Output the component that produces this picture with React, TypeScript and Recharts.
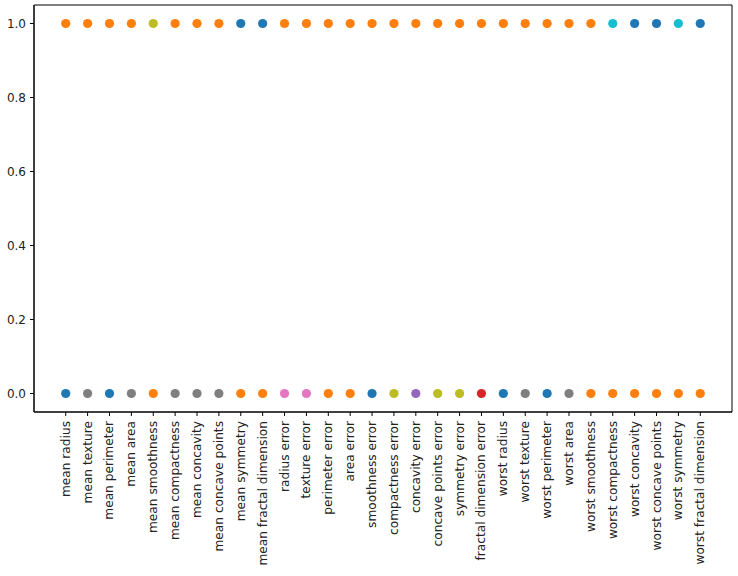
import { ScatterChart, Scatter, XAxis, YAxis, Cell, ReferenceArea } from 'recharts';

const features = [
  'mean radius', 'mean texture', 'mean perimeter', 'mean area', 'mean smoothness',
  'mean compactness', 'mean concavity', 'mean concave points', 'mean symmetry', 'mean fractal dimension',
  'radius error', 'texture error', 'perimeter error', 'area error', 'smoothness error',
  'compactness error', 'concavity error', 'concave points error', 'symmetry error', 'fractal dimension error',
  'worst radius', 'worst texture', 'worst perimeter', 'worst area', 'worst smoothness',
  'worst compactness', 'worst concavity', 'worst concave points', 'worst symmetry', 'worst fractal dimension',
];

// value plotted at the top row and bottom row for every feature
const upperValues = [1, 1, 1, 1, 1, 1, 1, 1, 1, 1, 1, 1, 1, 1, 1, 1, 1, 1, 1, 1, 1, 1, 1, 1, 1, 1, 1, 1, 1, 1];
const lowerValues = [0, 0, 0, 0, 0, 0, 0, 0, 0, 0, 0, 0, 0, 0, 0, 0, 0, 0, 0, 0, 0, 0, 0, 0, 0, 0, 0, 0, 0, 0];

// colour visible on top of each stack of markers
const upperColors = [
  'orange', 'orange', 'orange', 'orange', 'olive', 'orange', 'orange', 'orange', 'blue', 'blue',
  'orange', 'orange', 'orange', 'orange', 'orange', 'orange', 'orange', 'orange', 'orange', 'orange',
  'orange', 'orange', 'orange', 'orange', 'orange', 'cyan', 'blue', 'blue', 'cyan', 'blue',
];
const lowerColors = [
  'blue', 'gray', 'blue', 'gray', 'orange', 'gray', 'gray', 'gray', 'orange', 'orange',
  'pink', 'pink', 'orange', 'orange', 'blue', 'olive', 'purple', 'olive', 'olive', 'red',
  'blue', 'gray', 'blue', 'gray', 'orange', 'orange', 'orange', 'orange', 'orange', 'orange',
];

const yTicks = [0, 0.2, 0.4, 0.6, 0.8, 1.0];

const PALETTE: Record<string, string> = {
  blue: '#1f77b4',
  orange: '#ff7f0e',
  green: '#2ca02c',
  red: '#d62728',
  purple: '#9467bd',
  brown: '#8c564b',
  pink: '#e377c2',
  gray: '#7f7f7f',
  olive: '#bcbd22',
  cyan: '#17becf',
};

const FONT = '"DejaVu Sans", sans-serif';

const upperData = features.map((name, i) => ({ x: i, y: upperValues[i], name, color: PALETTE[upperColors[i]] }));
const lowerData = features.map((name, i) => ({ x: i, y: lowerValues[i], name, color: PALETTE[lowerColors[i]] }));

const Dot = (props: any) => {
  const { cx, cy, fill } = props;
  if (cx == null || cy == null) return null;
  return <circle cx={cx} cy={cy} r={4.6} fill={fill} />;
};

const FeatureTick = ({ x, y, payload }: any) => {
  const ty = y + 3;
  return (
    <text
      x={x}
      y={ty}
      transform={`rotate(-90, ${x}, ${ty})`}
      textAnchor="end"
      dominantBaseline="central"
      fontSize={12.2}
      fontFamily={FONT}
      fill="#222"
    >
      {features[payload.value]}
    </text>
  );
};

export default function App() {
  return (
    <div style={{ position: 'absolute', left: 0, top: 0, width: 738, height: 576, background: '#fff' }}>
      <ScatterChart width={738} height={576} margin={{ top: 5, right: 6, bottom: 0, left: 0 }}>
        <XAxis
          type="number"
          dataKey="x"
          domain={[-1.45, 30.45]}
          ticks={features.map((_, i) => i)}
          interval={0}
          allowDataOverflow
          height={164}
          tickSize={4}
          tickMargin={2}
          stroke="#000"
          tickLine={{ stroke: '#000' }}
          tick={<FeatureTick />}
        />
        <YAxis
          type="number"
          dataKey="y"
          domain={[-0.05, 1.05]}
          ticks={yTicks}
          allowDataOverflow
          width={34}
          tickSize={4}
          tickMargin={4}
          stroke="#000"
          tickFormatter={(v: number) => v.toFixed(1)}
          tick={{ fontSize: 12, fontFamily: FONT, fill: '#222' }}
        />
        <ReferenceArea
          x1={-1.45}
          x2={30.45}
          y1={-0.05}
          y2={1.05}
          fill="none"
          stroke="#000"
          strokeWidth={1}
          ifOverflow="extendDomain"
        />
        <Scatter data={lowerData} shape={<Dot />} isAnimationActive={false}>
          {lowerData.map((d, i) => (
            <Cell key={`low-${i}`} fill={d.color} />
          ))}
        </Scatter>
        <Scatter data={upperData} shape={<Dot />} isAnimationActive={false}>
          {upperData.map((d, i) => (
            <Cell key={`up-${i}`} fill={d.color} />
          ))}
        </Scatter>
      </ScatterChart>
    </div>
  );
}
